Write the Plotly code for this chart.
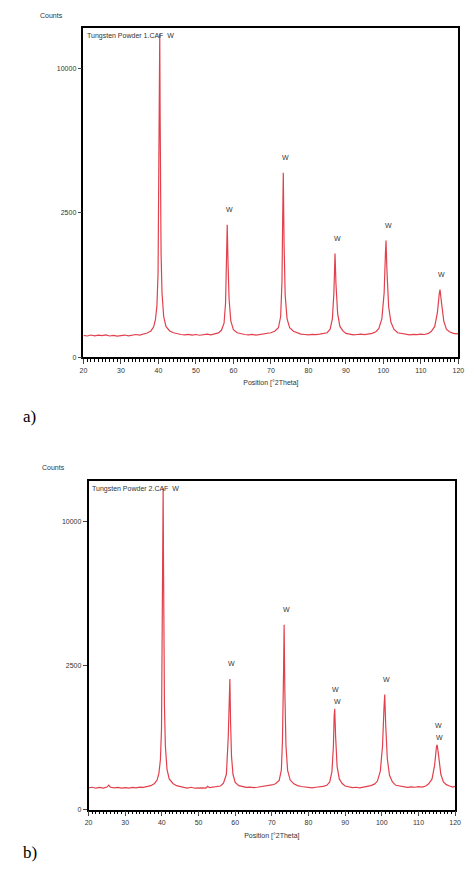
import numpy as np
import plotly.graph_objects as go

# Pattern a) Tungsten Powder 1 -- (2Theta, counts)
theta_a = [20, 21, 22, 23, 24, 25, 26, 27, 28, 29, 30, 31, 32, 33, 34, 35, 36, 37, 38, 38.7, 39.2, 39.6,
           39.9, 40.1, 40.25, 40.35, 40.45, 40.55, 40.7, 40.95, 41.4, 42, 43, 44, 45, 46, 47, 48, 49, 50,
           51, 52, 53, 54, 55, 56, 56.8, 57.5, 57.9, 58.15, 58.35, 58.55, 58.85, 59.3, 60, 61, 62, 63, 64,
           65, 66, 67, 68, 69, 70, 71, 72, 72.6, 72.95, 73.15, 73.3, 73.5, 73.8, 74.3, 75, 76, 77, 78, 79,
           80, 81, 82, 83, 84, 85, 85.8, 86.4, 86.8, 87.0, 87.1, 87.35, 87.8, 88.4, 89.2, 90, 91, 92, 93,
           94, 95, 96, 97, 98, 98.8, 99.6, 100.2, 100.55, 100.7, 100.95, 101.4, 102, 102.8, 103.8, 105,
           106, 107, 108, 109, 110, 111, 112, 112.8, 113.7, 114.4, 114.9, 115.1, 115.5, 116.1, 116.8,
           117.6, 118.5, 119.3, 120]
counts_a = [58, 55, 60, 56, 59, 57, 61, 55, 58, 54, 57, 60, 56, 61, 63, 60, 66, 71, 84, 110, 170, 320,
            850, 3500, 9000, 12500, 7000, 3000, 1300, 500, 200, 115, 84, 73, 67, 63, 61, 64, 60, 63,
            59, 62, 65, 61, 66, 72, 88, 140, 350, 1300, 2100, 1100, 400, 160, 92, 73, 67, 63, 61,
            64, 60, 63, 66, 68, 73, 82, 105, 200, 680, 2400, 4070, 1600, 470, 180, 105, 82, 71, 65, 63,
            61, 64, 62, 65, 67, 73, 95, 180, 500, 1100, 1290, 650, 230, 115, 84, 69, 64, 61, 63,
            65, 62, 66, 69, 79, 100, 180, 500, 1300, 1630, 900, 310, 150, 95, 73, 67,
            63, 61, 64, 62, 65, 63, 69, 82, 115, 240, 480, 550, 360, 160, 96,
            79, 71, 66, 68]

# Pattern b) Tungsten Powder 2
theta_b = [20, 21, 22, 23, 24, 25, 25.5, 26, 27, 28, 29, 30, 31, 32, 33, 34, 35, 36, 37, 38, 38.7, 39.2,
           39.6, 39.9, 40.1, 40.25, 40.35, 40.45, 40.55, 40.7, 40.95, 41.4, 42, 43, 44, 45, 46, 47, 48,
           49, 50, 51, 52, 52.5, 53, 54, 55, 56, 56.8, 57.6, 58.1, 58.35, 58.55, 58.75, 59.0, 59.4, 60,
           61, 62, 63, 64, 65, 66, 67, 68, 69, 70, 71, 72, 72.6, 72.9, 73.2, 73.35, 73.55, 73.85, 74.3,
           75, 76, 77, 78, 79, 80, 81, 82, 83, 84, 85, 85.8, 86.4, 86.8, 87.0, 87.15, 87.4, 87.8, 88.4,
           89.2, 90, 91, 92, 93, 94, 95, 96, 97, 98, 98.8, 99.6, 100.2, 100.6, 100.8, 101.05, 101.5,
           102.1, 102.9, 103.8, 105, 106, 107, 108, 109, 110, 111, 112, 112.8, 113.7, 114.4, 114.9,
           115.1, 115.5, 116.1, 116.8, 117.6, 118.5, 119.3, 120]
counts_b = [57, 60, 55, 59, 56, 61, 72, 60, 57, 59, 55, 58, 56, 59, 57, 61, 59, 63, 69, 82, 105, 160,
            300, 780, 3200, 8800, 12400, 7200, 3100, 1300, 490, 195, 113, 82, 69, 63, 59, 56, 60,
            55, 58, 57, 56, 65, 58, 60, 62, 67, 84, 150, 620, 1700, 2050, 900, 340, 150, 89,
            69, 63, 59, 61, 58, 60, 63, 65, 69, 73, 80, 103, 190, 580, 2300, 4100, 1700, 490, 185,
            105, 80, 69, 64, 61, 59, 57, 60, 62, 65, 71, 92, 175, 490, 1050, 1220, 640, 225, 113,
            82, 67, 61, 58, 60, 57, 61, 64, 69, 78, 98, 178, 490, 1250, 1590, 880, 310,
            142, 92, 71, 65, 61, 59, 62, 60, 63, 61, 67, 80, 113, 235, 470,
            505, 350, 150, 92, 75, 67, 61, 65, 63]

ytick_vals = [0, 2500, 10000]
xtick_vals = [20, 30, 40, 50, 60, 70, 80, 90, 100, 110, 120]

# peak labels (position, counts of label baseline)
labels_a = [(58.6, 2100), (73.5, 4070), (87.4, 1290), (101.0, 1630), (115.2, 550)]
labels_b = [(58.7, 2050), (73.5, 4100), (87.0, 1220), (100.9, 1590), (115.0, 505)]

red = "#e2404c"
fig = go.Figure()

panels = [
    dict(x=theta_a, y=counts_a, xa="x", ya="y", xd=[0.154, 0.962], yd=[0.602, 0.977],
         name="Tungsten Powder 1.CAF", labels=labels_a, double=False, tag="a)", tag_y=0.535, counts_y=0.985),
    dict(x=theta_b, y=counts_b, xa="x2", ya="y2", xd=[0.165, 0.955], yd=[0.087, 0.461],
         name="Tungsten Powder 2.CAF", labels=labels_b, double=True, tag="b)", tag_y=0.025, counts_y=0.470),
]

font = dict(family="Liberation Sans, Arial", size=7, color="#333")
for i, p in enumerate(panels):
    sfx = "" if i == 0 else "2"
    fig.add_trace(go.Scatter(x=p["x"], y=np.sqrt(p["y"]), mode="lines",
                             line=dict(color=red, width=1.2), xaxis=p["xa"], yaxis=p["ya"],
                             showlegend=False))
    fig.update_layout({
        "xaxis" + sfx: dict(domain=p["xd"], range=[20, 120], anchor=p["ya"], tickvals=xtick_vals,
                            ticks="outside", ticklen=5, showline=True, linecolor="black", mirror=True,
                            linewidth=1.5, showgrid=False, zeroline=False, tickfont=font,
                            minor=dict(dtick=1, ticks="outside", ticklen=3, tickcolor="black"),
                            title=dict(text="Position [°2Theta]", font=font, standoff=8)),
        "yaxis" + sfx: dict(domain=p["yd"], range=[0, 113.8], anchor=p["xa"],
                            tickvals=list(np.sqrt(ytick_vals)), ticktext=[str(v) for v in ytick_vals],
                            ticks="outside", ticklen=4, showline=True, linecolor="black", mirror=True,
                            linewidth=1.5, showgrid=False, zeroline=False, tickfont=font),
    })
    fig.add_annotation(xref=p["xa"] + " domain", yref=p["ya"] + " domain", x=0.005, y=0.995,
                       xanchor="left", yanchor="top", showarrow=False, text=p["name"] + "  W", font=font)
    for (px_, cy) in p["labels"]:
        if p["double"] and px_ in (87.0, 115.0):
            fig.add_annotation(x=px_ + 0.8, y=np.sqrt(cy), xref=p["xa"], yref=p["ya"], text="W",
                               showarrow=False, yanchor="bottom", yshift=2, font=font)
            fig.add_annotation(x=px_ + 0.4, y=np.sqrt(cy), xref=p["xa"], yref=p["ya"], text="W",
                               showarrow=False, yanchor="bottom", yshift=14, font=font)
        else:
            fig.add_annotation(x=px_ + 0.4, y=np.sqrt(cy), xref=p["xa"], yref=p["ya"], text="W",
                               showarrow=False, yanchor="bottom", yshift=10, font=font)
    fig.add_annotation(xref="paper", yref="paper", x=0.02, y=p["tag_y"], text=p["tag"], showarrow=False,
                       xanchor="left", font=dict(family="Liberation Serif, Times New Roman", size=17, color="black"))
    fig.add_annotation(xref="paper", yref="paper", x=0.055 + 0.006 * i, y=p["counts_y"], text="Counts",
                       showarrow=False, xanchor="left", yanchor="bottom", font=font)

fig.update_layout(width=474, height=881, margin=dict(l=0, r=0, t=0, b=0),
                  paper_bgcolor="white", plot_bgcolor="white")
fig.write_html("out.html")
